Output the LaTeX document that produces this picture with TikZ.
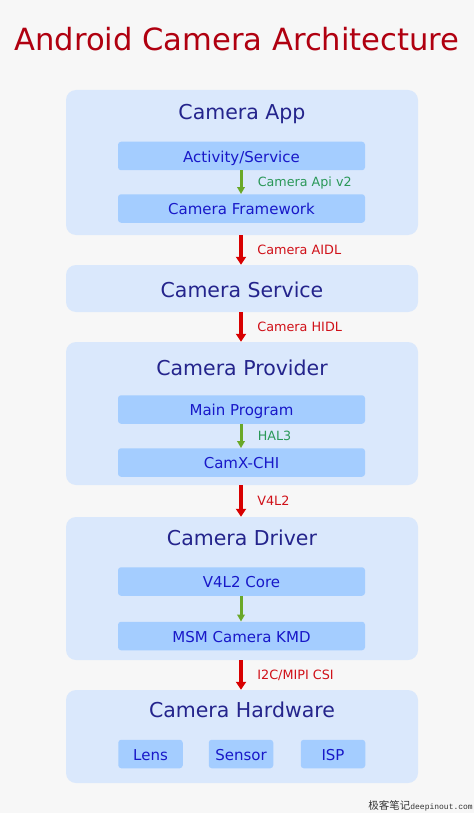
\documentclass[tikz,border=0pt]{standalone}
\usepackage{fontspec}
\setmainfont{DejaVu Sans}
\newfontfamily\cjkfont{Noto Sans CJK SC}
\newfontfamily\wmfont{Liberation Mono}
\usetikzlibrary{arrows.meta}
\definecolor{bggray}{HTML}{F7F7F7}
\definecolor{titlered}{HTML}{B00010}
\definecolor{layerfill}{HTML}{DAE8FC}
\definecolor{partfill}{HTML}{A4CDFF}
\definecolor{layertext}{HTML}{24248C}
\definecolor{parttext}{HTML}{1818C8}
\definecolor{callred}{HTML}{D80000}
\definecolor{labelred}{HTML}{D01018}
\definecolor{callgreen}{HTML}{6AA828}
\definecolor{labelgreen}{HTML}{2A9858}

\begin{document}
\begin{tikzpicture}[x=1pt,y=-1pt,
   layer/.style={fill=layerfill,rounded corners=10pt,minimum width=352pt,inner sep=0pt},
   layertitle/.style={inner sep=0pt,text height=16.4pt,text depth=1.4pt,text=layertext,font=\fontsize{20.5}{24}\selectfont},
   part/.style={fill=partfill,rounded corners=3pt,minimum width=247pt,minimum height=28.5pt,inner sep=0pt,
      text height=14.4pt,text depth=1.5pt,text=parttext,font=\fontsize{15}{18}\selectfont},
   smallpart/.style={part,minimum width=64.5pt},
   redcall/.style={callred,line width=4pt,-{Triangle[width=10pt,length=8pt]}},
   greencall/.style={callgreen,line width=3pt,-{Triangle[width=7.5pt,length=7pt]}},
   redlabel/.style={text height=10.2pt,text depth=0.9pt,text=labelred,font=\fontsize{12.8}{15}\selectfont,right=11pt},
   greenlabel/.style={text height=10.2pt,text depth=0.9pt,text=labelgreen,font=\fontsize{12.7}{15}\selectfont,right=12pt}]
   \useasboundingbox (0,0) rectangle (474,813);
   \fill[bggray] (0,0) rectangle (474,813);

   \node[text height=24.5pt,text depth=2.1pt,text=titlered,font=\fontsize{30.6}{36}\selectfont] (title) at (237,39.5) {Android Camera Architecture};

   \node[layer,minimum height=145pt] (app) at (242,162.5) {};
   \node[layertitle] (apptitle) at (242,112.5) {Camera App};
   \node[part] (activity) at (241.5,156) {Activity/Service};
   \node[part] (framework) at (241.5,208.5) {Camera Framework};

   \node[layer,minimum height=47pt] (service) at (242,288.5) {};
   \node[layertitle] (servicetitle) at (242,290) {Camera Service};

   \node[layer,minimum height=143pt] (provider) at (242,413.5) {};
   \node[layertitle] (providertitle) at (242,368.3) {Camera Provider};
   \node[part] (mainprog) at (241.5,409.5) {Main Program};
   \node[part] (camx) at (241.5,462.5) {CamX-CHI};

   \node[layer,minimum height=143pt] (driver) at (242,588.5) {};
   \node[layertitle] (drivertitle) at (242,538.3) {Camera Driver};
   \node[part] (v4lcore) at (241.5,581.5) {V4L2 Core};
   \node[part] (kmd) at (241.5,636) {MSM Camera KMD};

   \node[layer,minimum height=93pt] (hardware) at (242,736.5) {};
   \node[layertitle] (hardwaretitle) at (242,709.5) {Camera Hardware};
   \node[smallpart] (lens) at (150.5,754) {Lens};
   \node[smallpart] (sensor) at (241,754) {Sensor};
   \node[smallpart] (isp) at (333,754) {ISP};

   \draw[greencall] (activity.south -| 241,0) -- (framework.north -| 241,0) node[midway,greenlabel] {Camera Api v2};
   \draw[greencall] (mainprog.south -| 241,0) -- (camx.north -| 241,0) node[midway,greenlabel] {HAL3};
   \draw[greencall] (v4lcore.south -| 241,0) -- (kmd.north -| 241,0);
   \draw[redcall] (app.south -| 241,0) -- (service.north -| 241,0) node[midway,redlabel] {Camera AIDL};
   \draw[redcall] (service.south -| 241,0) -- (provider.north -| 241,0) node[midway,redlabel] {Camera HIDL};
   \draw[redcall] (provider.south -| 241,0) -- (driver.north -| 241,0) node[midway,redlabel] {V4L2};
   \draw[redcall] (driver.south -| 241,0) -- (hardware.north -| 241,0) node[midway,redlabel] {I2C/MIPI CSI};

   \node[anchor=east,inner sep=0pt,text=black!80] (mark) at (473,806)
      {{\cjkfont\fontsize{10.5}{12}\selectfont 极客笔记}{\wmfont\fontsize{8}{10}\selectfont deepinout.com}};
\end{tikzpicture}
\end{document}
